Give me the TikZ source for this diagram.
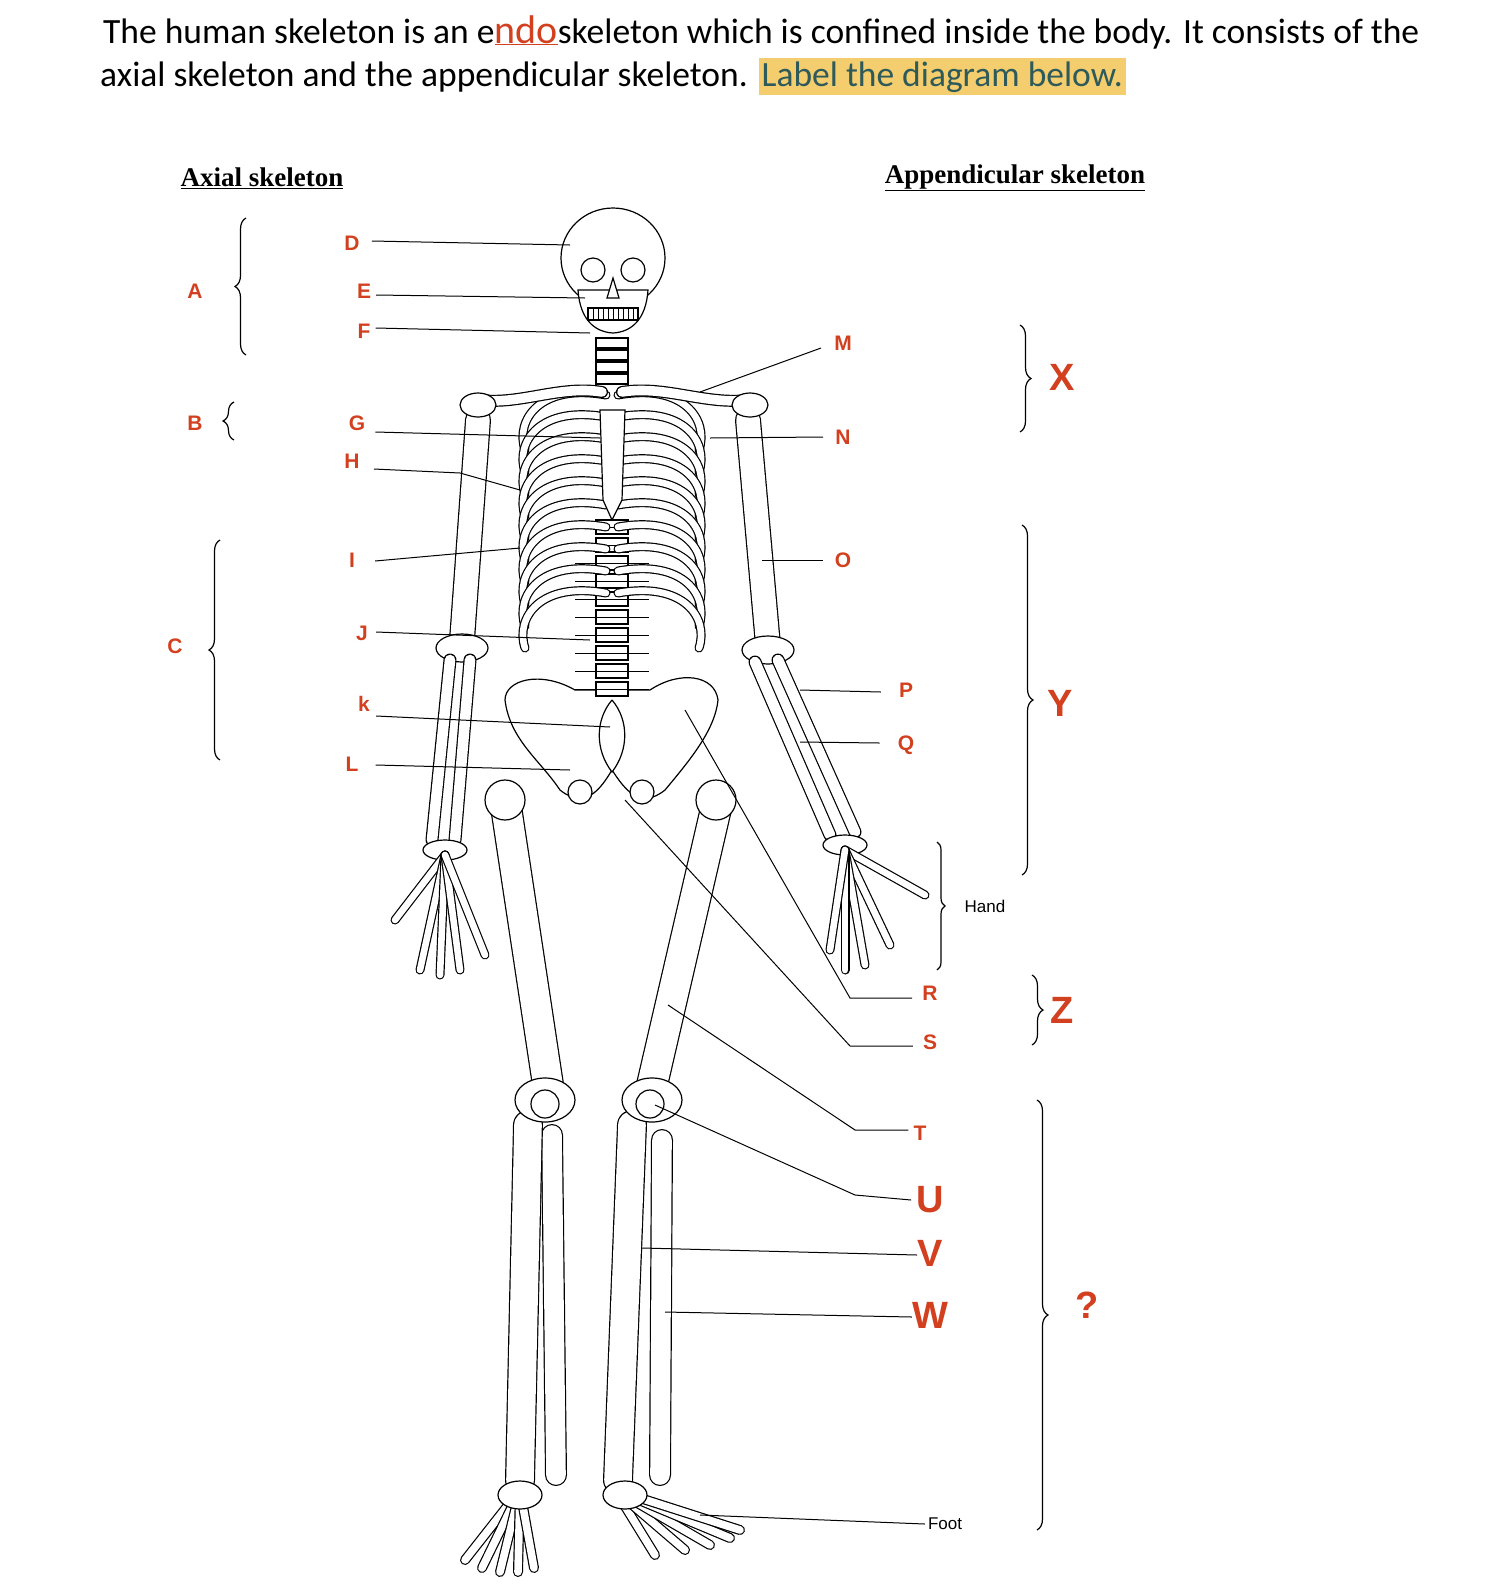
\documentclass[tikz,border=0pt]{standalone}
\usepackage{fontspec}
\setmainfont{Carlito}
\newfontfamily\lab{Liberation Sans}
\newfontfamily\ser{Liberation Serif}
\usetikzlibrary{decorations.pathreplacing}
\definecolor{lred}{HTML}{D2401F}
\definecolor{hyel}{HTML}{F3CD6E}
\definecolor{hteal}{HTML}{2E5A5A}
\newcommand\bp[2]{\draw[line width=#1pt,line cap=round,line join=round] #2; \draw[white,line width=#1pt-2.4pt,line cap=round,line join=round] #2;}
\begin{document}
\begin{tikzpicture}[x=1pt,y=-1pt,
  lb/.style={font=\lab\bfseries\fontsize{21}{21}\selectfont,text=lred,inner sep=0pt},
  bl/.style={font=\lab\bfseries\fontsize{38}{38}\selectfont,text=lred,inner sep=0pt},
  ld/.style={line width=1pt},
  br/.style={decorate,decoration={brace,amplitude=11pt},line width=1.2pt},
  sk/.style={line width=1.2pt,fill=white}]
\useasboundingbox (0,0) rectangle (1502,1588);
\fill[white] (0,0) rectangle (1502,1588);
% title
\node[anchor=base west,inner sep=0pt,font=\fontsize{35.5}{35.5}\selectfont] (t1) at (103,43) {The human skeleton is an e\textcolor{lred}{\fontsize{40}{40}\selectfont\underline{ndo}}skeleton which is confined inside the body. It consists of the};
\node[anchor=base west,inner sep=0pt,font=\fontsize{35.5}{35.5}\selectfont] (t2) at (100,86) {axial skeleton and the appendicular skeleton. \colorbox{hyel}{\textcolor{hteal}{Label the diagram below.}}};
\node[font=\ser\bfseries\fontsize{27}{27}\selectfont,inner sep=0pt] (h1) at (262,178) {\underline{Axial skeleton}};
\node[font=\ser\bfseries\fontsize{27}{27}\selectfont,inner sep=0pt] (h2) at (1015,178) {\underline{Appendicular skeleton}};

% ===== skeleton =====
% legs
\bp{32}{(505,800) -- (548,1085)}
\bp{32}{(718,800) -- (652,1085)}
\bp{22}{(552,1135) -- (556,1475)}
\bp{30}{(528,1125) -- (520,1480)}
\bp{22}{(662,1140) -- (660,1475)}
\bp{30}{(632,1125) -- (618,1480)}
\draw[sk] (545,1100) ellipse (30 and 22);
\draw[sk] (652,1100) ellipse (30 and 22);
\draw[sk] (545,1104) circle (14);
\draw[sk] (650,1104) circle (14);
\draw[sk] (505,800) circle (20);
\draw[sk] (716,800) circle (20);
% feet
\foreach \dx/\dy in {-55/70,-38/78,-20/82,-2/82,14/78}{\bp{10}{(520,1490) -- ++(\dx,\dy)}}
\foreach \dx/\dy in {40/65,70/60,95/55,115/48,125/40}{\bp{10}{(615,1490) -- ++(\dx,\dy)}}
\draw[sk] (520,1495) ellipse (22 and 14);
\draw[sk] (625,1495) ellipse (22 and 14);
% pelvis
\draw[sk] (575,690) .. controls (540,670) and (505,680) .. (505,700) .. controls (510,740) and (540,760) .. (560,790) .. controls (585,810) and (600,790) .. (612,770) .. controls (625,790) and (640,810) .. (665,790) .. controls (690,760) and (715,730) .. (718,700) .. controls (715,675) and (680,670) .. (650,690) -- cycle;
\draw[sk] (612,700) .. controls (595,720) and (595,750) .. (612,772) .. controls (629,750) and (629,720) .. (612,700);
\draw[sk] (580,792) circle (12);
\draw[sk] (642,792) circle (12);
% spine
\foreach \y in {520,538,556,574,592,610,628,646,664,682}{\draw[sk] (596,\y) rectangle (628,\y+14); \draw[line width=1pt] (575,\y+7) -- (649,\y+7);}
\foreach \y in {338,350,362,374}{\draw[sk] (596,\y) rectangle (628,\y+10);}
% arms
\bp{26}{(478,420) -- (462,640)}
\bp{26}{(748,420) -- (768,645)}
\draw[sk] (462,648) ellipse (26 and 14);
\draw[sk] (768,650) ellipse (26 and 14);
\bp{13}{(450,660) -- (432,840)}
\bp{13}{(470,660) -- (455,840)}
\bp{13}{(755,662) -- (830,835)}
\bp{13}{(778,660) -- (855,832)}
% hands
\draw[sk] (445,850) ellipse (22 and 10);
\foreach \dx/\dy in {-50/65,-25/115,-5/120,15/115,40/100}{\bp{9}{(445,855) -- ++(\dx,\dy)}}
\draw[sk] (845,845) ellipse (22 and 10);
\foreach \dx/\dy in {80/45,45/95,20/115,0/120,-15/100}{\bp{9}{(845,850) -- ++(\dx,\dy)}}
% rib cage
\foreach \i in {0,...,9}{
 \pgfmathsetmacro\yy{395+\i*22}
 \bp{9}{(606,\yy) .. controls (540,\yy-12) and (515,\yy+25) .. (525,\yy+55)}
 \bp{9}{(618,\yy) .. controls (684,\yy-12) and (709,\yy+25) .. (699,\yy+55)}
}
\draw[sk] (600,410) -- (625,410) -- (622,500) -- (612,520) -- (603,500) -- cycle;
% clavicles & shoulders
\bp{12}{(602,392) .. controls (560,385) and (520,405) .. (480,400)}
\bp{12}{(622,392) .. controls (665,385) and (705,405) .. (748,400)}
\draw[sk] (478,405) ellipse (18 and 12);
\draw[sk] (750,405) ellipse (18 and 12);
% skull
\draw[sk] (613,258) ellipse (52 and 50);
\draw[sk] (578,290) .. controls (580,320) and (595,332) .. (613,333) .. controls (631,332) and (646,320) .. (648,290) -- cycle;
\draw[sk] (588,308) rectangle (638,320);
\foreach \x in {593,598,...,633}{\draw (\x,308) -- (\x,320);}
\draw[sk] (593,270) circle (12);
\draw[sk] (633,270) circle (12);
\draw[sk] (613,278) -- (607,298) -- (619,298) -- cycle;

% ===== labels =====
\node[lb] (A) at (195,291) {A};
\node[lb] (B) at (195,423) {B};
\node[lb] (C) at (175,646) {C};
\node[lb] (D) at (352,243) {D};
\node[lb] (E) at (364,291) {E};
\node[lb] (F) at (364,331) {F};
\node[lb] (G) at (357,423) {G};
\node[lb] (H) at (352,461) {H};
\node[lb] (I) at (352,560) {I};
\node[lb] (J) at (362,633) {J};
\node[lb] (k) at (364,704) {k};
\node[lb] (L) at (352,764) {L};
\node[lb] (M) at (843,343) {M};
\node[lb] (N) at (843,437) {N};
\node[lb] (O) at (843,560) {O};
\node[lb] (P) at (906,690) {P};
\node[lb] (Q) at (906,745) {Q};
\node[lb] (R) at (930,993) {R};
\node[lb] (S) at (930,1042) {S};
\node[lb] (T) at (920,1133) {T};
\node[bl] (U) at (930,1200) {U};
\node[bl] (V) at (930,1253) {V};
\node[bl] (W) at (930,1315) {W};
\node[bl] (X) at (1062,377) {X};
\node[bl] (Y) at (1060,703) {Y};
\node[bl] (Z) at (1062,1010) {Z};
\node[bl] (Qm) at (1087,1305) {?};
\node[font=\lab\fontsize{17}{17}\selectfont,inner sep=0pt] (hand) at (985,906) {Hand};
\node[font=\lab\fontsize{17}{17}\selectfont,inner sep=0pt] (foot) at (945,1524) {Foot};

% braces
\draw[br] (246,355) -- (246,218);
\draw[br] (234,440) -- (234,402);
\draw[br] (220,760) -- (220,540);
\draw[br] (1020,325) -- (1020,432);
\draw[br] (1022,525) -- (1022,875);
\draw[br] (1032,975) -- (1032,1045);
\draw[br] (1037,1100) -- (1037,1530);
\draw[br,decoration={brace,amplitude=8pt}] (937,842) -- (937,970);

% leader lines
\coordinate (d1) at (570,245); \draw[ld] (D.east)++(12,-2) -- (d1);
\coordinate (e1) at (585,298); \draw[ld] (E.east)++(5,4) -- (e1);
\coordinate (f1) at (590,333); \draw[ld] (F.east)++(5,-3) -- (f1);
\coordinate (g1) at (600,438); \draw[ld] (G.east)++(10,9) -- (g1);
\coordinate (h1) at (520,490); \draw[ld] (H.east)++(14,8) -- (460,473) -- (h1);
\coordinate (i1) at (520,548); \draw[ld] (I.east)++(20,1) -- (i1);
\coordinate (j1) at (590,640); \draw[ld] (J.east)++(8,-1) -- (j1);
\coordinate (k1) at (610,727); \draw[ld] (k.east)++(6,12) -- (k1);
\coordinate (l1) at (570,770); \draw[ld] (L.east)++(17,1) -- (l1);
\coordinate (m1) at (700,392); \draw[ld] (M.west)++(-13,5) -- (m1);
\coordinate (n1) at (710,438); \draw[ld] (N.west)++(-12,0) -- (n1);
\coordinate (o1) at (762,560); \draw[ld] (O.west)++(-12,0) -- (o1);
\coordinate (p1) at (800,690); \draw[ld] (P.west)++(-18,2) -- (p1);
\coordinate (q1) at (800,742); \draw[ld] (Q.west)++(-18,-2) -- (q1);
\coordinate (r1) at (685,710); \draw[ld] (R.west)++(-10,5) -- (850,998) -- (r1);
\coordinate (s1) at (625,800); \draw[ld] (S.west)++(-10,4) -- (850,1046) -- (s1);
\coordinate (t1c) at (668,1005); \draw[ld] (T.west)++(-5,-3) -- (855,1130) -- (t1c);
\coordinate (u1) at (655,1105); \draw[ld] (U.west)++(-5,0) -- (855,1195) -- (u1);
\coordinate (v1) at (642,1248); \draw[ld] (V.west)++(0,2) -- (v1);
\coordinate (w1) at (665,1312); \draw[ld] (W.west)++(0,2) -- (w1);
\coordinate (ft) at (700,1515); \draw[ld] (foot.west)++(-3,0) -- (ft);
\end{tikzpicture}
\end{document}
